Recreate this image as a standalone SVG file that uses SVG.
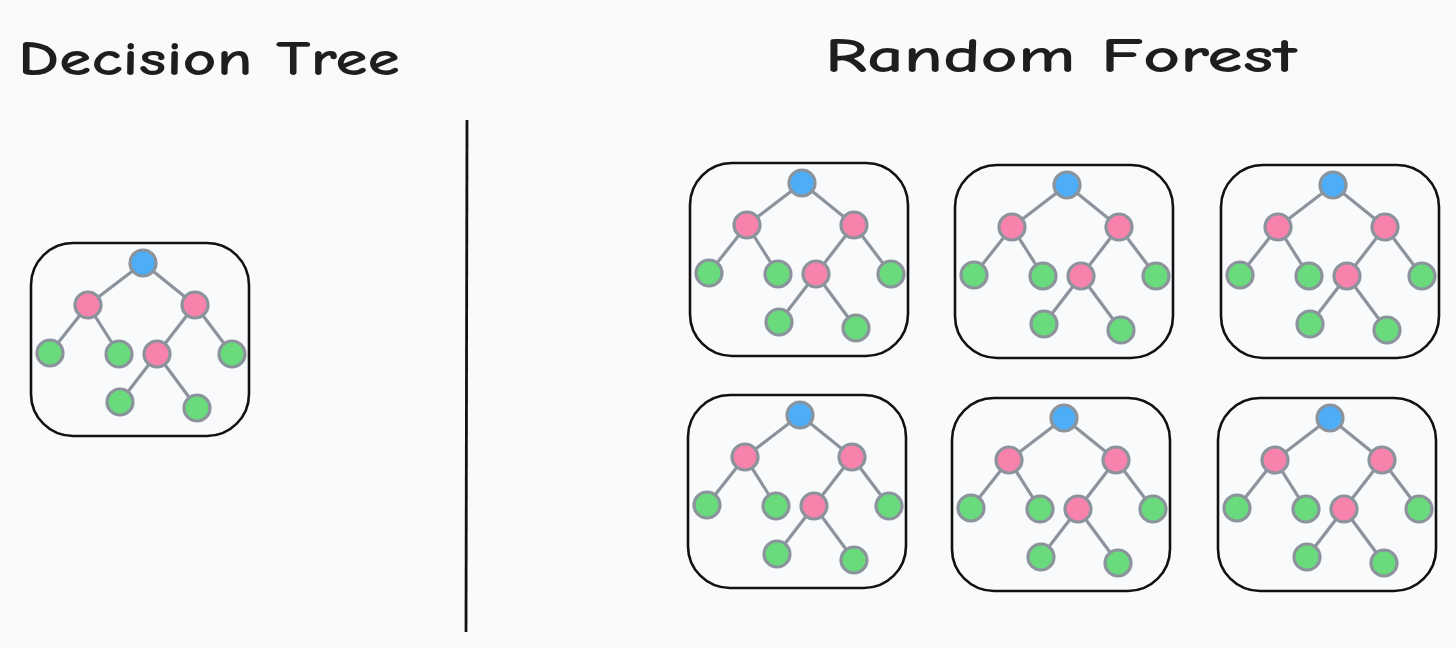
<svg xmlns="http://www.w3.org/2000/svg" xmlns:xlink="http://www.w3.org/1999/xlink" width="1456" height="648" viewBox="0 0 1456 648">
<style>
.t{font-family:"Comic Neue","Liberation Sans",sans-serif;font-size:48px;font-weight:bold;fill:#1e1e1e}
.box{fill:none;stroke:#111;stroke-width:2.6}
.e{stroke:#8b939c;stroke-width:3.2}
.n{stroke:#8b939c;stroke-width:3.2}
.b{fill:#4dadf7}.p{fill:#f783ac}.g{fill:#69db7c}
</style>
<defs>
<g id="tree">
<rect class="box" x="0" y="0" width="218" height="193" rx="42"/>
<g class="e">
<line x1="112" y1="20" x2="57" y2="62"/><line x1="112" y1="20" x2="164" y2="62"/>
<line x1="57" y1="62" x2="19" y2="110"/><line x1="57" y1="62" x2="88" y2="111"/>
<line x1="164" y1="62" x2="126" y2="111"/><line x1="164" y1="62" x2="201" y2="111"/>
<line x1="126" y1="111" x2="89" y2="159"/><line x1="126" y1="111" x2="166" y2="165"/>
</g>
<circle class="n b" cx="112" cy="20" r="13"/>
<circle class="n p" cx="57" cy="62" r="13"/><circle class="n p" cx="164" cy="62" r="13"/>
<circle class="n g" cx="19" cy="110" r="13"/><circle class="n g" cx="88" cy="111" r="13"/>
<circle class="n p" cx="126" cy="111" r="13"/><circle class="n g" cx="201" cy="111" r="13"/>
<circle class="n g" cx="89" cy="159" r="13"/><circle class="n g" cx="166" cy="165" r="13"/>
</g>
</defs>
<rect width="1456" height="648" fill="#f9fafc"/>
<text class="t" x="18" y="75" textLength="382" lengthAdjust="spacingAndGlyphs">Decision Tree</text>
<text class="t" x="825" y="72" textLength="472" lengthAdjust="spacingAndGlyphs">Random Forest</text>
<g id="connectors"><line x1="467" y1="120" x2="466" y2="632" stroke="#111" stroke-width="2.8"/></g>
<g id="dt"><use xlink:href="#tree" x="31" y="243"/></g>
<g id="rf1"><use xlink:href="#tree" x="690" y="163"/></g>
<g id="rf2"><use xlink:href="#tree" x="955" y="165"/></g>
<g id="rf3"><use xlink:href="#tree" x="1221" y="165"/></g>
<g id="rf4"><use xlink:href="#tree" x="688" y="395"/></g>
<g id="rf5"><use xlink:href="#tree" x="952" y="398"/></g>
<g id="rf6"><use xlink:href="#tree" x="1218" y="398"/></g>
</svg>
